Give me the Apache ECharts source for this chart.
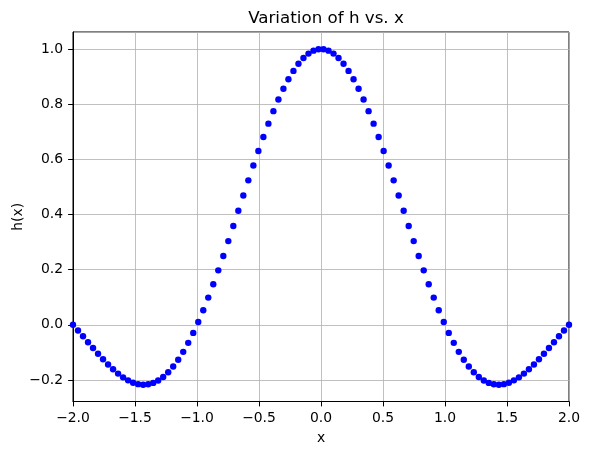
<!DOCTYPE html>
<html>
<head>
<meta charset="utf-8">
<script src="https://cdn.jsdelivr.net/npm/echarts@6/dist/echarts.min.js"></script>
<style>html,body{margin:0;padding:0;background:#fff;}#c{width:589px;height:455px;}</style>
</head>
<body>
<div id="c"></div>
<script>
// x positions (100 evenly spaced points from -2 to 2)
var xHalf = [-2.0000,-1.9596,-1.9192,-1.8788,-1.8384,-1.7980,-1.7576,-1.7172,-1.6768,-1.6364,
  -1.5960,-1.5556,-1.5152,-1.4747,-1.4343,-1.3939,-1.3535,-1.3131,-1.2727,-1.2323,
  -1.1919,-1.1515,-1.1111,-1.0707,-1.0303,-0.9899,-0.9495,-0.9091,-0.8687,-0.8283,
  -0.7879,-0.7475,-0.7071,-0.6667,-0.6263,-0.5859,-0.5455,-0.5051,-0.4646,-0.4242,
  -0.3838,-0.3434,-0.3030,-0.2626,-0.2222,-0.1818,-0.1414,-0.1010,-0.0606,-0.0202];
var xRight = [0.0202,0.0606,0.1010,0.1414,0.1818,0.2222,0.2626,0.3030,0.3434,0.3838,
  0.4242,0.4646,0.5051,0.5455,0.5859,0.6263,0.6667,0.7071,0.7475,0.7879,
  0.8283,0.8687,0.9091,0.9495,0.9899,1.0303,1.0707,1.1111,1.1515,1.1919,
  1.2323,1.2727,1.3131,1.3535,1.3939,1.4343,1.4747,1.5152,1.5556,1.5960,
  1.6364,1.6768,1.7172,1.7576,1.7980,1.8384,1.8788,1.9192,1.9596,2.0000];
var hLeft = [0.0000,-0.0206,-0.0417,-0.0630,-0.0842,-0.1050,-0.1250,-0.1439,-0.1613,-0.1769,
  -0.1905,-0.2015,-0.2099,-0.2152,-0.2172,-0.2158,-0.2107,-0.2018,-0.1890,-0.1722,
  -0.1514,-0.1267,-0.0980,-0.0655,-0.0294,0.0102,0.0530,0.0987,0.1469,0.1974,
  0.2497,0.3035,0.3582,0.4135,0.4688,0.5237,0.5776,0.6302,0.6808,0.7293,
  0.7747,0.8170,0.8557,0.8904,0.9207,0.9465,0.9674,0.9833,0.9940,0.9993];
var hRight = [0.9993,0.9940,0.9833,0.9674,0.9465,0.9207,0.8904,0.8557,0.8170,0.7747,
  0.7293,0.6808,0.6302,0.5776,0.5237,0.4688,0.4135,0.3582,0.3035,0.2497,
  0.1974,0.1469,0.0987,0.0530,0.0102,-0.0294,-0.0655,-0.0980,-0.1267,-0.1514,
  -0.1722,-0.1890,-0.2018,-0.2107,-0.2158,-0.2172,-0.2152,-0.2099,-0.2015,-0.1905,
  -0.1769,-0.1613,-0.1439,-0.1250,-0.1050,-0.0842,-0.0630,-0.0417,-0.0206,0.0000];
var titleText = 'Variation of h vs. x';
var xName = 'x';
var yName = 'h(x)';

var xs = xHalf.concat(xRight);
var hs = hLeft.concat(hRight);
var pts = xs.map(function(x, i){ return [x, hs[i]]; });

function fmt(v){
  var s = (Math.abs(v) < 1e-9 ? 0 : v).toFixed(1);
  return s.replace('-', '\u2212');
}

var font = 'DejaVu Sans';
var chart = echarts.init(document.getElementById('c'), null, {renderer: 'canvas'});
chart.setOption({
  animation: false,
  backgroundColor: '#fff',
  title: {
    text: titleText, left: 321, top: 5, textAlign: 'center',
    textStyle: {fontFamily: font, fontSize: 16.7, fontWeight: 'normal', color: '#000'}
  },
  grid: {left: 73, right: 20, top: 32, bottom: 53.5, show: true, borderColor: '#000', borderWidth: 1,
    backgroundColor: 'transparent', containLabel: false, outerBoundsMode: 'none'},
  xAxis: {
    type: 'value', min: -2, max: 2, interval: 0.5,
    name: xName, nameLocation: 'middle', nameGap: 30, nameMoveOverlap: false,
    nameTextStyle: {fontFamily: font, fontSize: 13.9, color: '#000'},
    axisLine: {show: true, onZero: false, lineStyle: {color: '#000', width: 1}},
    axisTick: {show: true, length: 4.9, lineStyle: {color: '#000', width: 1}},
    axisLabel: {fontFamily: font, fontSize: 13.9, color: '#000', margin: 10, formatter: fmt},
    splitLine: {show: true, lineStyle: {color: '#b0b0b0', width: 0.8}}
  },
  yAxis: {
    type: 'value', min: -0.2781, max: 1.0617, splitNumber: 7,
    name: yName, nameLocation: 'middle', nameGap: 48, nameRotate: 90, nameMoveOverlap: false,
    nameTextStyle: {fontFamily: font, fontSize: 13.9, color: '#000'},
    axisLine: {show: true, onZero: false, lineStyle: {color: '#000', width: 1}},
    axisTick: {show: true, length: 4.9, lineStyle: {color: '#000', width: 1}},
    axisLabel: {fontFamily: font, fontSize: 13.9, color: '#000', margin: 10, formatter: fmt,
      showMinLabel: false, showMaxLabel: false},
    splitLine: {show: true, lineStyle: {color: '#b0b0b0', width: 0.8}}
  },
  series: [{
    type: 'scatter', data: pts, symbol: 'circle', symbolSize: 6.4,
    itemStyle: {color: '#0000ff', opacity: 1}, clip: true
  }]
});
</script>
</body>
</html>
